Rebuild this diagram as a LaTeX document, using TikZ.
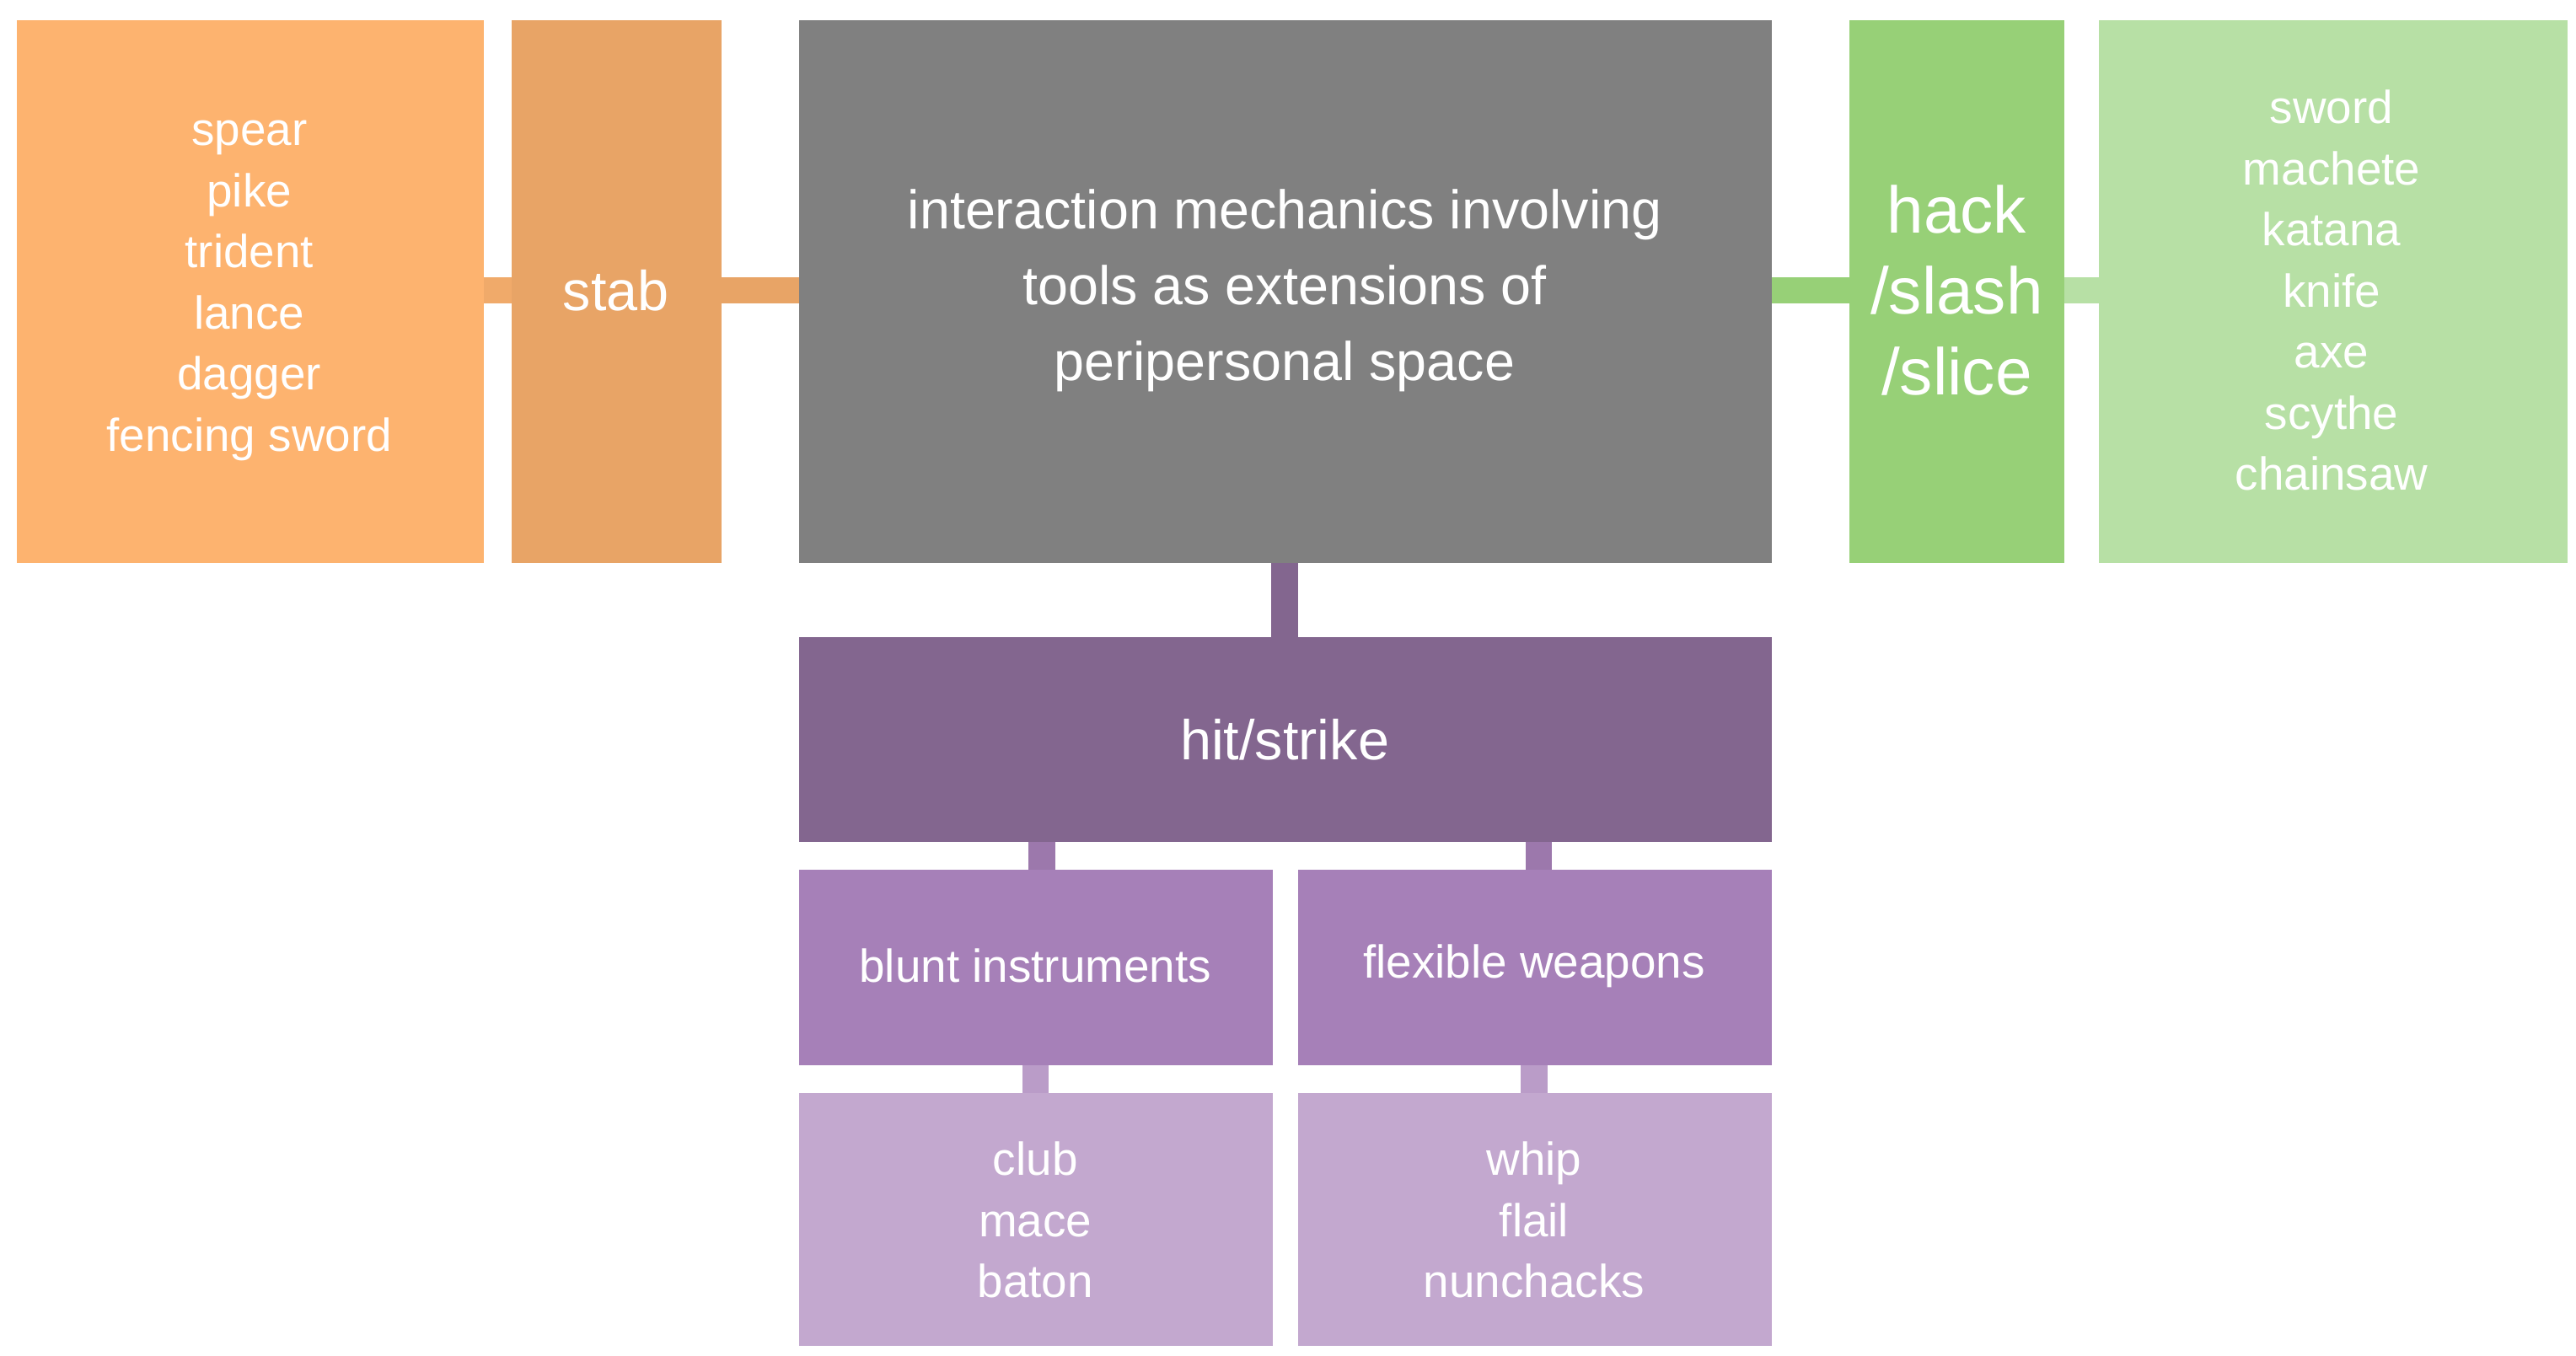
\documentclass[tikz,border=0pt]{standalone}
\usepackage{fontspec}
\setmainfont{Liberation Sans}
\definecolor{or1}{HTML}{FDB36F}
\definecolor{or2}{HTML}{E8A466}
\definecolor{gy}{HTML}{808080}
\definecolor{gr1}{HTML}{97D077}
\definecolor{gr2}{HTML}{B7E0A5}
\definecolor{pu1}{HTML}{83668F}
\definecolor{pu2}{HTML}{A680B8}
\definecolor{pu3}{HTML}{C3A8CF}
\begin{document}
\begin{tikzpicture}[x=1pt,y=-1pt,
  box/.style={inner sep=0pt,text=white,align=center},
  lst/.style={font=\fontsize{28}{37}\selectfont},
  link/.style={line width=16pt}]
\useasboundingbox (0,0) rectangle (1560,821);
\def\bx#1#2#3#4#5#6{\fill[#6] (#2,#3) rectangle (#4,#5); \coordinate (#1) at ({(#2+#4)/2},{(#3+#5)/2});}
% connectors first
\coordinate (a) at (293,176);
\draw[link,or2!60!or1] (200,176) -- (330,176);
\draw[link,or2] (400,176) -- (500,176);
\draw[link,gr1] (1060,176) -- (1140,176);
\draw[link,gr2] (1240,176) -- (1290,176);
\draw[link,pu1] (778,330) -- (778,396);
\draw[link,pu2!70!pu1] (631,500) -- (631,537);
\draw[link,pu2!70!pu1] (932,500) -- (932,537);
\draw[link,pu3!70!pu2] (627,635) -- (627,672);
\draw[link,pu3!70!pu2] (929,635) -- (929,672);
% boxes
\fill[or1] (10,12) rectangle (293,341);
\fill[or2] (310,12) rectangle (437,341);
\fill[gy] (484,12) rectangle (1073,341);
\fill[gr1] (1120,12) rectangle (1250,341);
\fill[gr2] (1271,12) rectangle (1555,341);
\fill[pu1] (484,386) rectangle (1073,510);
\fill[pu2] (484,527) rectangle (771,645);
\fill[pu2] (786,527) rectangle (1073,645);
\fill[pu3] (484,662) rectangle (771,815);
\fill[pu3] (786,662) rectangle (1073,815);
% texts
\node[box,lst] (ol) at (151,176) {spear\\pike\\trident\\lance\\dagger\\fencing sword};
\node[box,font=\fontsize{34}{40}\selectfont] (st) at (373,176) {stab};
\node[box,font=\fontsize{33}{46}\selectfont] (c) at (778,176) {interaction mechanics involving\\tools as extensions of\\peripersonal space};
\node[box,font=\fontsize{40}{49}\selectfont] (h) at (1185,176) {hack\\/slash\\/slice};
\node[box,lst] (gl) at (1412,176) {sword\\machete\\katana\\knife\\axe\\scythe\\chainsaw};
\node[box,font=\fontsize{34}{40}\selectfont] (hs) at (778,448) {hit/strike};
\node[box,lst] (bi) at (627,585) {blunt instruments};
\node[box,lst] (fw) at (929,585) {flexible weapons};
\node[box,lst] (cl) at (627,739) {club\\mace\\baton};
\node[box,lst] (wh) at (929,739) {whip\\flail\\nunchacks};
\end{tikzpicture}
\end{document}
